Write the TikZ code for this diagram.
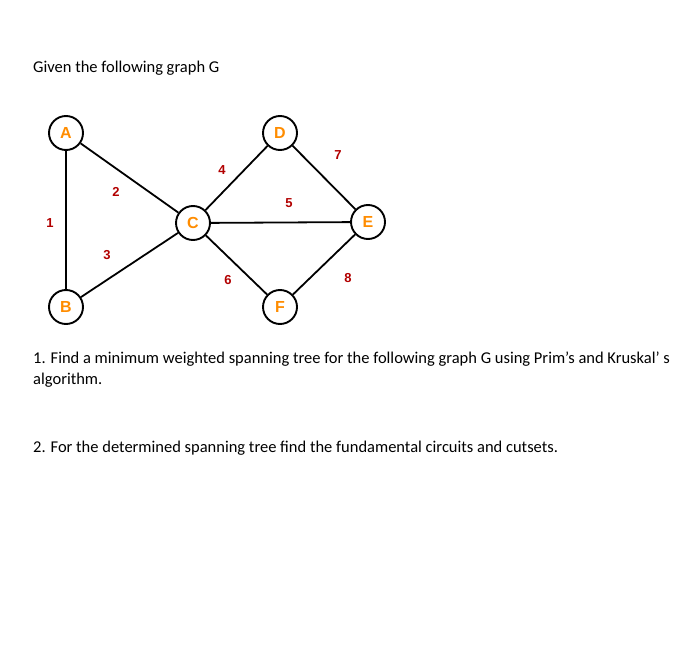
\documentclass[tikz,border=0pt]{standalone}
\usepackage{fontspec}
\setmainfont{Carlito}
\begin{document}
\begin{tikzpicture}[x=1pt,y=-1pt,
  vtx/.style={circle,draw,line width=1.9pt,minimum size=34pt,inner sep=0pt,text=orange!90!yellow,font=\fontspec{Liberation Sans}\bfseries\fontsize{16}{16}\selectfont},
  edge/.style={line width=1.8pt},
  wt/.style={text=red!70!black,font=\fontspec{Liberation Sans}\bfseries\fontsize{13}{13}\selectfont},
  txt/.style={anchor=west,font=\fontsize{16.5}{20}\selectfont,inner sep=0pt}]
\useasboundingbox (0,0) rectangle (700,660);
\node[txt] (t0) at (33,68) {Given the following graph G};
\node[vtx] (A) at (66,133) {A};
\node[vtx] (B) at (66,307) {B};
\node[vtx] (C) at (193,223) {C};
\node[vtx] (D) at (280,133) {D};
\node[vtx] (E) at (368,222) {E};
\node[vtx] (F) at (280,307) {F};
\draw[edge] (A)--(B);
\draw[edge] (A)--(C);
\draw[edge] (B)--(C);
\draw[edge] (C)--(D);
\draw[edge] (C)--(E);
\draw[edge] (C)--(F);
\draw[edge] (D)--(E);
\draw[edge] (F)--(E);
\node[wt] (w1) at (50,223) {1};
\node[wt] (w2) at (116,192) {2};
\node[wt] (w3) at (107,255) {3};
\node[wt] (w4) at (222,170) {4};
\node[wt] (w5) at (289,203) {5};
\node[wt] (w6) at (228,280) {6};
\node[wt] (w7) at (338,155) {7};
\node[wt] (w8) at (348,278) {8};
\node[txt] (t1) at (33,359) {1. Find a minimum weighted spanning tree for the following graph G using Prim’s and Kruskal’ s};
\node[txt] (t2) at (33,380) {algorithm.};
\node[txt] (t3) at (33,448) {2. For the determined spanning tree find the fundamental circuits and cutsets.};
\end{tikzpicture}
\end{document}
